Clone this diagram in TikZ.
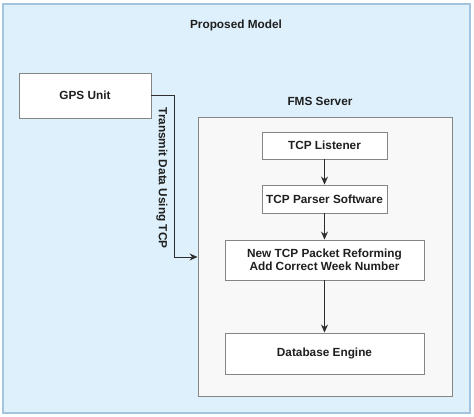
\documentclass[tikz,border=0pt]{standalone}
\usepackage{fontspec}
\setmainfont{Liberation Sans}
\usetikzlibrary{arrows.meta}
\definecolor{bgblue}{HTML}{DDF0FB}
\definecolor{edgeblue}{HTML}{A3C3DE}
\definecolor{srvfill}{HTML}{F8F8F8}
\definecolor{boxedge}{HTML}{858585}
\begin{document}
\begin{tikzpicture}[x=1pt, y=-1pt,
    lbl/.style={font=\bfseries\fontsize{11.8}{13.5}\selectfont, text=black!88},
    box/.style={lbl, draw=boxedge, fill=white, line width=0.9pt, align=center, inner sep=0pt},
    flow/.style={-{Stealth[length=8pt,width=7pt]}, line width=1pt, draw=black!82}]
    \useasboundingbox (0,0) rectangle (474,417);
    \filldraw[fill=bgblue, draw=edgeblue, line width=1.2pt] (3,4) rectangle (470,413);

    \node[lbl] (title) at (236,25) {Proposed Model};
    \node[box, minimum width=132pt, minimum height=45pt] (gps) at (85,95.5) {GPS Unit};

    \node[lbl] (fmslbl) at (320,101) {FMS Server};
    \node[box, fill=srvfill, minimum width=254pt, minimum height=279pt] (fms) at (325,256.5) {};

    \node[box, minimum width=125pt, minimum height=27pt] (listener) at (324.5,145.5) {TCP Listener};
    \node[box, minimum width=125pt, minimum height=28pt] (parser) at (324.5,199) {TCP Parser Software};
    \node[box, minimum width=199pt, minimum height=40pt] (packet) at (324.5,260) {New TCP Packet Reforming\\Add Correct Week Number};
    \node[box, minimum width=199pt, minimum height=41pt] (db) at (324.5,353.5) {Database Engine};

    \coordinate (bend) at (174,257);
    \draw[flow] (gps.east) -| (bend) -- (bend -| fms.west);
    \node[lbl, rotate=-90] (tx) at (162,178) {Transmit Data Using TCP};

    \draw[flow] (listener) -- (parser);
    \draw[flow] (parser) -- (packet);
    \draw[flow] (packet) -- (db);
\end{tikzpicture}
\end{document}
